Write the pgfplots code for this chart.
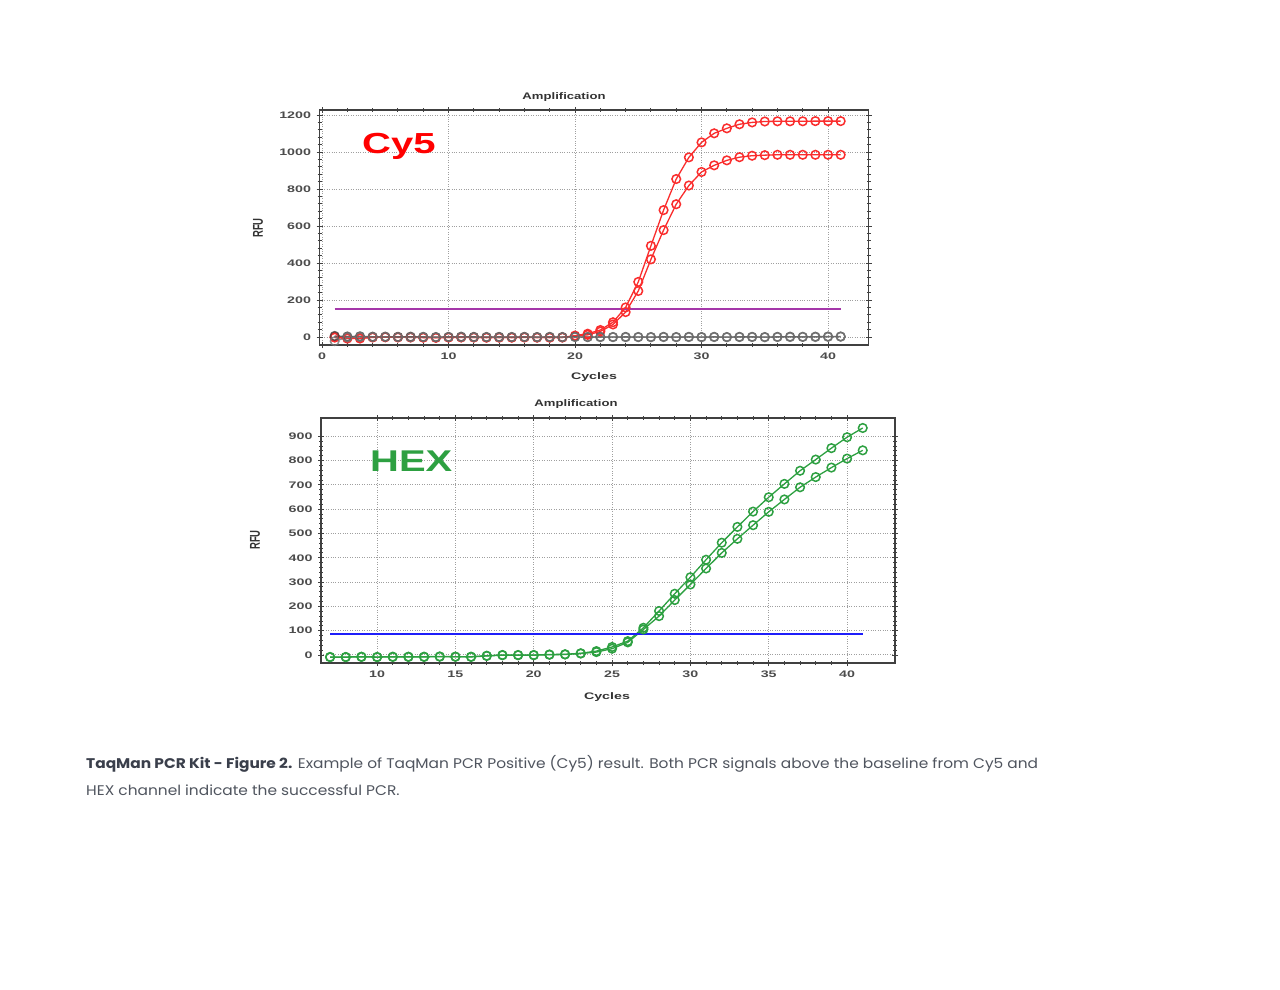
\documentclass[border=0pt]{standalone}
\usepackage{fontspec}
\setmainfont{Poppins}
\newfontfamily\chartfont{Liberation Sans}
\usepackage{pgfplots}
\usepackage{pgfplotstable}
\pgfplotsset{compat=1.18}
\newcommand\W[1]{\scalebox{1.5}[1]{#1}}
\definecolor{cyred}{RGB}{250,45,45}
\definecolor{hexgreen}{RGB}{45,160,65}
\definecolor{thrpurple}{RGB}{165,55,170}
\definecolor{thrblue}{RGB}{30,30,250}
\definecolor{capbold}{RGB}{58,63,75}
\definecolor{captext}{RGB}{80,85,95}

\pgfplotstableread{
x y
1 -3
2 -8
3 -8
4 -2
5 0
6 0
7 -2
8 -3
9 -4
10 -2
11 -2
12 -2
13 -3
14 -2
15 -3
16 -2
17 -3
18 -2
19 -2
20 8
21 18
22 38
23 80
24 160
25 298
26 493
27 686
28 854
29 971
30 1052
31 1101
32 1128
33 1150
34 1160
35 1165
36 1166
37 1166
38 1166
39 1167
40 1167
41 1167
}\cyA
\pgfplotstableread{
x y
1 2
2 -5
3 -5
4 -1
5 -1
6 -2
7 -1
8 -2
9 -3
10 -2
11 -1
12 -2
13 -2
14 -3
15 -2
16 -1
17 -2
18 -3
19 -2
20 5
21 12
22 30
23 68
24 135
25 249
26 420
27 578
28 718
29 819
30 892
31 928
32 955
33 972
34 980
35 983
36 985
37 985
38 985
39 985
40 985
41 985
}\cyB
\pgfplotstableread{
x y
1 6
2 3
3 4
4 2
5 2
6 1
7 2
8 1
9 0
10 1
11 2
12 1
13 0
14 1
15 0
16 1
17 0
18 1
19 0
20 1
21 0
22 1
23 0
24 1
25 0
26 0
27 1
28 0
29 1
30 0
31 1
32 0
33 1
34 1
35 0
36 1
37 2
38 1
39 2
40 3
41 3
}\negA
\pgfplotstableread{
x y
1 -22
2 -2
3 0
4 0
5 1
6 0
7 -1
8 0
9 -1
10 0
11 0
12 -1
13 0
14 -1
15 0
16 0
17 -1
18 0
19 -1
20 0
21 0
22 -1
23 0
24 -1
25 0
26 -1
27 0
28 -1
29 0
30 -1
31 0
32 -1
33 0
34 0
35 -1
36 0
37 0
38 1
39 0
40 1
41 2
}\negB
\pgfplotstableread{
x y
7 -8
8 -8
9 -7
10 -8
11 -7
12 -7
13 -7
14 -6
15 -7
16 -7
17 -3
18 0
19 0
20 0
21 2
22 3
23 7
24 16
25 33
26 57
27 112
28 181
29 252
30 320
31 392
32 462
33 527
34 590
35 649
36 704
37 758
38 804
39 851
40 896
41 934
}\hexA
\pgfplotstableread{
x y
7 -9
8 -9
9 -8
10 -9
11 -8
12 -8
13 -8
14 -7
15 -7
16 -8
17 -4
18 -1
19 -1
20 -1
21 1
22 2
23 6
24 12
25 26
26 52
27 105
28 160
29 226
30 290
31 356
32 420
33 478
34 534
35 589
36 640
37 690
38 732
39 771
40 808
41 842
}\hexB

\pgfplotsset{
  pcr/.style={
    scale only axis,
    axis line style={black!75, line width=1.6pt},
    grid=major,
    major grid style={gray!75, dotted, line width=1pt},
    tick align=center,
    major tick length=6pt,
    minor tick length=4pt,
    every tick/.style={black!75, line width=0.9pt},
    /pgf/number format/assume math mode=true,
    /pgf/number format/1000 sep={},
    tick label style={font=\chartfont\bfseries\fontsize{9.5}{10}\selectfont, text=black!70},
    xticklabel={\W{\pgfmathprintnumber{\tick}}},
    yticklabel={\W{\pgfmathprintnumber{\tick}}},
    yticklabel style={xshift=-2pt},
    xticklabel style={yshift=-1pt},
    clip=false,
  },
  curve/.style={line width=1.3pt, mark=o, mark size=4.3pt, mark options={line width=1.5pt}},
}

\begin{document}
\begin{tikzpicture}
\useasboundingbox[fill=white] (0pt,0pt) rectangle (1280pt,-989pt);

% ---------- Cy5 ----------
\begin{axis}[pcr,
  at={(319.5pt,-110pt)}, anchor=north west,
  width=549pt, height=235pt,
  xmin=-0.2, xmax=43.2, ymin=-43, ymax=1227,
  xtick={0,10,20,30,40}, ytick={0,200,400,600,800,1000,1200},
  minor x tick num=4, minor y tick num=4,
]
\addplot[cyred, curve] table[x=x,y=y] {\cyA};
\addplot[cyred, curve] table[x=x,y=y] {\cyB};
\addplot[black!75, curve, opacity=0.8] table[x=x,y=y] {\negA};
\addplot[black!55, curve, opacity=0.8] table[x=x,y=y] {\negB};
\addplot[thrpurple, line width=2pt, mark=none] coordinates {(1,150) (41,150)};
\end{axis}

% ---------- HEX ----------
\begin{axis}[pcr,
  at={(321pt,-418pt)}, anchor=north west,
  width=574pt, height=245pt,
  xmin=6.42, xmax=43.06, ymin=-33, ymax=975,
  xtick={10,15,20,25,30,35,40}, ytick={0,100,...,900},
  minor x tick num=4, minor y tick num=4,
]
\addplot[hexgreen, curve] table[x=x,y=y] {\hexA};
\addplot[hexgreen, curve] table[x=x,y=y] {\hexB};
\addplot[thrblue, line width=1.8pt, mark=none] coordinates {(7,85) (41,85)};
\end{axis}

% ---------- chart texts ----------
\begin{scope}[every node/.style={font=\chartfont\bfseries\fontsize{9.5}{10}\selectfont, text=black!80, inner sep=0pt}]
\node at (564pt,-97pt) {\scalebox{1.38}[1]{Amplification}};
\node at (594pt,-377pt) {\W{Cycles}};
\node[rotate=90] at (258pt,-228pt) {\scalebox{1}[1.5]{RFU}};
\node at (576pt,-404pt) {\scalebox{1.38}[1]{Amplification}};
\node at (607pt,-697pt) {\W{Cycles}};
\node[rotate=90] at (255pt,-540pt) {\scalebox{1}[1.5]{RFU}};
\end{scope}

\node[anchor=base west, inner sep=0pt, text=red, font=\chartfont\bfseries\fontsize{29}{30}\selectfont] at (362pt,-153pt) {\scalebox{1.38}[1]{Cy5}};
\node[anchor=base west, inner sep=0pt, text=hexgreen, font=\chartfont\bfseries\fontsize{30}{31}\selectfont] at (370pt,-471pt) {\scalebox{1.33}[1]{HEX}};

% ---------- caption ----------
\node[anchor=base west, inner sep=0pt, text=captext, font=\fontsize{14}{16}\selectfont] at (86pt,-768pt) {\scalebox{1.1}[1]{\textcolor{capbold}{\bfseries TaqMan PCR Kit - Figure 2.} Example of TaqMan PCR Positive (Cy5) result. Both PCR signals above the baseline from Cy5 and}};
\node[anchor=base west, inner sep=0pt, text=captext, font=\fontsize{14}{16}\selectfont] at (86pt,-795pt) {\scalebox{1.1}[1]{HEX channel indicate the successful PCR.}};
\end{tikzpicture}
\end{document}
